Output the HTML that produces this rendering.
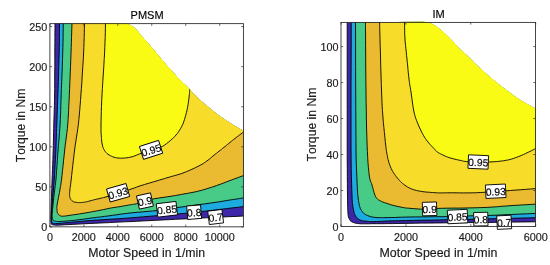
<!DOCTYPE html>
<html><head><meta charset="utf-8"><title>PMSM / IM efficiency maps</title>
<style>html,body{margin:0;padding:0;background:#fff}svg{display:block}text{font-family:"Liberation Sans",Arial,Helvetica,sans-serif;stroke:currentColor;stroke-width:0.15px;font-kerning:none}</style>
</head><body>
<svg width="550" height="265" viewBox="0 0 550 265">
<rect width="550" height="265" fill="#fff"/>
<clipPath id="clip1"><polygon points="49.9,226.8 49.9,23.6 122.0,23.0 122.8,23.2 123.6,23.3 124.4,23.5 125.2,23.6 125.9,23.8 126.5,23.9 127.0,24.0 127.4,24.1 127.7,24.2 128.0,24.3 128.3,24.4 128.6,24.5 129.0,24.6 129.4,24.8 129.8,24.9 130.2,25.1 130.6,25.3 131.0,25.5 131.4,25.7 131.9,25.9 132.3,26.2 132.7,26.4 133.2,26.7 133.6,27.0 134.0,27.3 134.4,27.7 134.8,28.1 135.2,28.5 135.6,28.9 136.0,29.3 136.4,29.7 136.7,30.0 137.0,30.4 137.3,30.7 137.7,31.2 138.2,31.8 138.8,32.5 139.5,33.4 140.3,34.4 141.1,35.4 141.9,36.4 142.7,37.3 143.5,38.1 144.2,39.0 145.0,39.8 145.7,40.6 146.5,41.4 147.3,42.3 148.1,43.3 149.0,44.3 149.8,45.3 150.7,46.4 151.6,47.4 152.5,48.5 153.4,49.5 154.2,50.6 155.1,51.6 156.0,52.7 157.0,53.8 158.0,55.0 159.1,56.3 160.3,57.8 161.6,59.3 162.9,60.8 164.2,62.3 165.4,63.8 166.6,65.2 167.8,66.6 169.1,67.9 170.3,69.2 171.5,70.6 172.7,71.9 173.9,73.3 175.2,74.6 176.4,76.0 177.6,77.4 178.9,78.7 180.1,80.0 181.3,81.2 182.6,82.4 183.8,83.6 185.1,84.7 186.3,85.8 187.4,86.9 188.4,88.0 189.4,89.0 190.3,90.0 191.2,91.1 192.2,92.1 193.2,93.2 194.3,94.3 195.4,95.4 196.5,96.6 197.7,97.8 199.0,99.0 200.3,100.2 201.8,101.5 203.4,102.8 205.0,104.2 206.7,105.5 208.4,106.9 210.0,108.2 211.5,109.5 213.0,110.7 214.4,111.9 215.9,113.0 217.4,114.3 219.1,115.5 220.9,116.8 222.8,118.1 224.8,119.4 226.9,120.8 229.0,122.1 231.0,123.4 233.0,124.7 235.1,125.9 237.2,127.1 239.2,128.4 241.3,129.6 243.4,130.8 243.4,226.8"/></clipPath>
<clipPath id="box1"><rect x="49.9" y="23.6" width="193.5" height="203.2"/></clipPath>
<g clip-path="url(#clip1)">
<polygon points="55.1,15.5 55.0,23.5 55.0,28.3 54.9,32.9 54.9,37.5 54.9,42.2 54.8,47.4 54.8,53.0 54.8,59.4 54.8,66.6 54.7,74.0 54.7,81.5 54.7,88.6 54.6,95.0 54.5,100.6 54.4,105.7 54.2,110.5 54.1,115.0 53.9,119.5 53.8,124.0 53.7,128.5 53.6,132.8 53.5,137.0 53.4,141.2 53.3,145.5 53.2,150.0 53.0,154.7 52.9,159.6 52.7,164.5 52.5,169.4 52.3,174.3 52.1,179.0 51.9,183.7 51.8,188.4 51.6,193.0 51.5,197.4 51.3,201.5 51.2,205.0 51.1,208.0 51.0,210.6 50.9,212.8 50.9,214.8 50.8,216.5 50.8,218.0 50.8,219.3 50.8,220.3 50.8,221.1 50.8,221.7 50.8,222.3 50.9,222.8 51.0,223.3 51.0,223.7 51.1,224.0 51.3,224.2 51.6,224.4 52.0,224.6 52.5,224.8 53.1,224.9 53.8,225.1 54.7,225.1 55.8,225.2 57.1,225.2 58.6,225.2 60.2,225.1 62.0,225.0 64.1,224.8 66.8,224.7 70.0,224.5 74.0,224.3 78.7,224.1 83.9,223.8 89.4,223.5 94.8,223.3 100.0,223.0 104.9,222.8 109.6,222.6 114.4,222.3 119.3,222.1 124.4,221.8 130.0,221.6 136.2,221.3 143.0,220.9 150.0,220.6 157.0,220.2 163.8,219.9 170.0,219.6 175.4,219.3 180.2,219.1 184.8,218.9 189.4,218.7 194.3,218.4 200.0,218.1 206.5,217.8 213.5,217.5 220.9,217.1 228.4,216.7 236.0,216.4 243.4,216.0 255.4,215.4 273.4,215.4 273.4,-6.4 55.1,-6.4" fill="#3E26A8"/>
<polygon points="59.6,15.5 59.5,23.5 59.5,28.3 59.4,32.9 59.4,37.5 59.4,42.2 59.3,47.4 59.2,53.0 59.0,59.4 58.8,66.6 58.6,74.0 58.4,81.5 58.1,88.6 57.9,95.0 57.7,100.6 57.5,105.7 57.3,110.5 57.1,115.0 57.0,119.5 56.8,124.0 56.6,128.5 56.5,132.8 56.4,137.0 56.2,141.2 56.1,145.5 55.9,150.0 55.7,154.8 55.4,159.7 55.1,164.8 54.9,169.8 54.6,174.6 54.3,179.0 54.0,183.0 53.7,186.9 53.4,190.4 53.1,193.8 52.8,197.0 52.6,200.0 52.4,202.8 52.1,205.4 51.9,207.8 51.7,210.1 51.6,212.1 51.5,214.0 51.4,215.7 51.4,217.2 51.4,218.6 51.5,219.7 51.6,220.7 51.7,221.6 51.9,222.3 52.1,222.7 52.3,223.0 52.6,223.1 53.0,223.3 53.5,223.4 54.1,223.5 54.7,223.6 55.4,223.6 56.1,223.5 57.0,223.5 58.0,223.4 59.0,223.3 60.1,223.3 61.2,223.2 62.6,223.0 64.2,222.9 66.2,222.7 68.7,222.5 71.6,222.2 74.8,221.9 78.2,221.6 81.4,221.3 84.4,221.0 87.0,220.8 89.3,220.6 91.5,220.5 93.8,220.3 96.6,220.1 100.0,219.9 104.1,219.6 108.6,219.3 113.5,219.0 118.7,218.7 124.3,218.3 130.0,217.9 136.4,217.4 143.5,216.8 150.8,216.2 158.0,215.6 164.6,215.1 170.0,214.6 174.1,214.3 177.3,214.0 179.8,213.8 182.0,213.6 184.1,213.4 186.5,213.2 189.1,212.9 191.6,212.7 194.1,212.4 196.5,212.1 198.9,211.9 201.3,211.6 203.6,211.3 205.9,211.1 208.2,210.8 210.5,210.5 212.7,210.3 215.0,210.0 217.3,209.7 219.6,209.4 221.8,209.2 224.1,208.9 226.5,208.6 228.8,208.3 231.2,208.0 233.6,207.7 236.1,207.5 238.5,207.2 241.0,206.9 243.4,206.6 255.3,205.2 273.4,205.2 273.4,-6.4 59.6,-6.4" fill="#1CAADF"/>
<polygon points="63.5,15.5 63.3,23.5 63.2,28.3 63.1,32.9 63.1,37.5 63.0,42.2 62.9,47.4 62.7,53.0 62.5,59.4 62.3,66.6 62.0,74.0 61.7,81.5 61.4,88.6 61.2,95.0 61.0,100.6 60.8,105.7 60.7,110.5 60.5,115.0 60.3,119.5 60.1,124.0 59.8,128.5 59.5,132.8 59.2,137.0 58.8,141.2 58.4,145.5 58.1,150.0 57.7,154.9 57.4,160.1 57.0,165.4 56.6,170.6 56.3,175.2 56.0,179.0 55.7,181.8 55.5,183.9 55.3,185.4 55.1,186.7 54.9,188.1 54.7,190.0 54.4,192.3 54.1,194.9 53.8,197.6 53.5,200.3 53.2,202.8 53.0,205.0 52.8,207.0 52.6,208.8 52.5,210.4 52.3,212.0 52.2,213.3 52.2,214.6 52.2,215.7 52.2,216.6 52.3,217.4 52.4,218.1 52.5,218.7 52.7,219.3 52.9,219.8 53.1,220.2 53.4,220.5 53.7,220.8 54.2,221.0 54.8,221.2 55.6,221.3 56.5,221.4 57.5,221.5 58.6,221.5 60.0,221.5 61.6,221.4 63.5,221.3 65.7,221.1 68.0,220.9 70.5,220.7 72.9,220.5 75.3,220.2 77.6,219.9 79.9,219.6 82.3,219.3 84.6,219.0 86.8,218.7 88.9,218.4 90.9,218.1 92.8,217.9 94.7,217.7 96.5,217.4 98.2,217.2 100.0,217.0 101.6,216.8 103.0,216.6 104.4,216.4 106.0,216.2 107.8,216.0 110.0,215.7 112.7,215.3 115.7,214.9 119.0,214.4 122.5,213.9 126.2,213.5 130.0,213.0 134.1,212.6 138.6,212.2 143.2,211.8 147.9,211.4 152.5,211.0 156.8,210.5 160.7,210.0 164.4,209.5 167.9,209.0 171.5,208.4 175.5,207.8 180.0,207.2 185.4,206.5 191.6,205.6 198.1,204.7 204.5,203.9 210.3,203.1 215.0,202.4 218.5,201.9 221.1,201.5 223.2,201.1 224.9,200.8 226.7,200.5 228.8,200.2 231.2,199.8 233.6,199.4 236.1,199.1 238.5,198.7 241.0,198.3 243.4,197.9 255.3,196.0 273.4,196.0 273.4,-6.4 63.5,-6.4" fill="#47CB86"/>
<polygon points="72.3,15.5 72.0,23.5 71.8,28.3 71.7,32.9 71.5,37.5 71.4,42.2 71.2,47.4 71.0,53.0 70.8,59.4 70.5,66.6 70.2,74.0 69.9,81.5 69.6,88.6 69.3,95.0 69.1,100.6 68.8,105.7 68.6,110.5 68.4,115.0 68.1,119.5 67.8,124.0 67.4,128.5 66.9,132.8 66.3,137.0 65.8,141.2 65.2,145.5 64.7,150.0 64.2,154.9 63.6,160.1 63.1,165.4 62.5,170.6 62.0,175.2 61.6,179.0 61.2,181.8 61.0,183.9 60.7,185.4 60.5,186.7 60.2,188.1 59.9,190.0 59.5,192.4 58.9,195.1 58.4,197.9 57.9,200.6 57.4,203.1 57.1,205.0 56.9,206.4 56.8,207.3 56.8,208.0 56.9,208.5 57.0,208.9 57.0,209.5 57.0,210.1 57.1,210.8 57.1,211.3 57.2,211.9 57.3,212.4 57.5,212.9 57.7,213.4 58.0,213.8 58.3,214.2 58.6,214.6 59.0,214.9 59.4,215.2 59.8,215.5 60.2,215.7 60.6,215.9 61.0,216.1 61.7,216.2 62.5,216.2 63.5,216.2 64.7,216.1 65.9,215.9 67.4,215.7 69.0,215.5 70.7,215.2 72.6,214.9 74.8,214.6 77.1,214.3 79.5,213.9 81.9,213.5 84.4,213.1 87.0,212.7 89.7,212.2 92.4,211.7 95.1,211.2 97.7,210.7 100.0,210.3 102.0,209.9 103.7,209.5 105.3,209.2 106.9,208.8 108.4,208.5 110.0,208.2 111.7,207.9 113.3,207.6 115.0,207.4 116.7,207.1 118.3,206.9 120.0,206.6 121.7,206.3 123.4,206.0 125.1,205.7 126.8,205.4 128.4,205.1 130.0,204.8 131.4,204.6 132.6,204.4 133.7,204.3 134.9,204.1 136.3,203.8 138.0,203.4 140.0,202.8 142.1,202.2 144.5,201.4 147.0,200.6 149.6,199.9 152.2,199.2 155.0,198.6 158.0,198.2 161.0,197.7 164.1,197.3 167.2,196.8 170.0,196.4 172.7,196.0 175.3,195.5 177.7,195.1 180.2,194.7 182.6,194.2 185.0,193.8 187.4,193.4 189.6,192.9 191.9,192.5 194.1,192.1 196.4,191.6 198.8,191.0 201.3,190.4 203.8,189.7 206.3,188.9 208.9,188.1 211.5,187.3 214.0,186.5 216.5,185.6 219.0,184.7 221.4,183.8 223.9,182.9 226.3,181.9 228.8,181.0 231.2,180.1 233.7,179.2 236.1,178.3 238.5,177.4 241.0,176.5 243.4,175.6 254.7,171.4 273.4,171.4 273.4,-6.4 72.3,-6.4" fill="#EABA30"/>
<polygon points="84.7,15.5 84.5,23.5 84.4,28.3 84.3,32.9 84.2,37.5 84.0,42.2 83.9,47.4 83.6,53.0 83.3,59.4 82.8,66.6 82.3,74.0 81.9,81.5 81.4,88.6 80.9,95.0 80.5,100.6 80.1,105.7 79.7,110.5 79.3,115.0 78.9,119.5 78.4,124.0 77.8,128.5 77.2,132.8 76.5,137.0 75.9,141.2 75.2,145.5 74.6,150.0 74.0,154.9 73.4,160.1 72.8,165.4 72.2,170.6 71.7,175.2 71.3,179.0 70.9,181.9 70.7,184.2 70.4,186.0 70.2,187.4 70.0,188.7 69.9,190.0 69.8,191.2 69.7,192.2 69.6,193.0 69.6,193.7 69.6,194.4 69.6,195.0 69.6,195.6 69.7,196.2 69.8,196.7 69.9,197.1 70.0,197.6 70.1,198.0 70.2,198.4 70.4,198.7 70.6,199.1 70.8,199.4 71.0,199.7 71.3,200.0 71.6,200.3 71.9,200.7 72.3,201.0 72.7,201.3 73.1,201.6 73.7,201.8 74.4,202.0 75.1,202.2 75.9,202.3 76.8,202.5 77.6,202.5 78.5,202.6 79.4,202.6 80.4,202.6 81.4,202.5 82.4,202.4 83.3,202.3 84.0,202.2 84.5,202.2 84.8,202.1 85.1,202.1 85.3,202.0 85.7,202.0 86.4,201.8 87.4,201.6 88.5,201.3 89.9,200.9 91.2,200.6 92.6,200.2 93.8,199.9 94.9,199.6 95.9,199.4 96.9,199.1 97.9,198.9 98.9,198.7 100.0,198.4 101.0,198.2 101.7,198.0 102.5,197.8 103.5,197.6 105.0,197.2 107.0,196.6 109.9,195.7 113.5,194.6 117.6,193.4 121.7,192.1 125.5,190.9 128.7,189.9 131.1,189.1 133.1,188.4 134.8,187.8 136.4,187.2 138.0,186.6 140.0,185.9 142.3,185.2 144.6,184.5 147.1,183.7 149.7,183.0 152.2,182.2 154.7,181.5 157.1,180.8 159.6,180.0 162.0,179.3 164.5,178.6 166.9,177.8 169.4,177.1 171.8,176.4 174.3,175.7 176.8,175.0 179.2,174.3 181.7,173.5 184.1,172.6 186.6,171.6 189.2,170.5 191.9,169.3 194.4,168.2 196.7,167.0 198.8,166.0 200.5,165.1 202.0,164.2 203.3,163.5 204.4,162.7 205.6,161.9 206.8,161.0 208.1,160.1 209.3,159.1 210.5,158.1 211.7,157.1 212.9,156.1 214.1,155.1 215.3,154.1 216.6,153.2 217.8,152.2 219.0,151.2 220.3,150.3 221.5,149.3 222.7,148.3 223.9,147.3 225.2,146.4 226.4,145.4 227.6,144.4 228.8,143.4 230.0,142.4 231.3,141.4 232.5,140.4 233.7,139.4 235.0,138.5 236.2,137.5 237.4,136.6 238.6,135.7 239.8,134.8 241.0,133.9 242.2,133.0 243.4,132.1 253.0,124.9 273.4,124.9 273.4,-6.4 84.7,-6.4" fill="#F7DC2A"/>
<polygon points="105.7,15.5 105.5,23.5 105.4,28.3 105.3,32.9 105.2,37.5 105.0,42.2 104.8,47.4 104.6,53.0 104.2,59.4 103.8,66.6 103.3,74.0 102.8,81.5 102.4,88.6 102.0,95.0 101.7,100.8 101.5,106.3 101.3,111.4 101.2,116.1 101.1,120.3 101.0,124.0 101.0,127.0 101.0,129.4 101.0,131.4 101.1,133.0 101.2,134.5 101.3,136.0 101.4,137.5 101.5,138.8 101.6,139.9 101.7,141.0 101.8,142.0 102.0,143.0 102.2,144.0 102.4,145.0 102.6,145.9 102.8,146.8 103.1,147.6 103.5,148.5 103.9,149.4 104.4,150.3 104.9,151.1 105.5,151.9 106.2,152.7 107.0,153.5 108.0,154.2 109.0,154.9 110.2,155.6 111.5,156.2 112.7,156.8 114.0,157.2 115.3,157.6 116.5,157.8 117.8,158.0 119.1,158.1 120.5,158.2 122.0,158.2 123.6,158.1 125.2,158.0 126.9,157.8 128.7,157.5 130.4,157.2 132.0,156.8 133.5,156.4 135.0,155.8 136.4,155.2 137.9,154.6 139.4,154.0 141.0,153.4 142.7,152.8 144.5,152.2 146.4,151.5 148.3,150.9 150.2,150.3 152.0,149.7 153.8,149.2 155.5,148.8 157.2,148.4 159.0,147.9 160.8,147.2 162.6,146.3 164.6,145.1 166.6,143.6 168.8,141.9 170.8,140.2 172.8,138.4 174.5,136.7 176.0,135.0 177.4,133.4 178.6,131.7 179.7,129.9 180.8,128.2 181.7,126.5 182.5,124.8 183.3,123.0 183.9,121.2 184.5,119.5 185.0,117.7 185.5,116.0 186.0,114.3 186.4,112.6 186.8,111.0 187.2,109.3 187.5,107.7 187.8,106.0 188.1,104.3 188.4,102.5 188.6,100.8 188.8,99.1 189.0,97.5 189.2,96.0 189.3,94.7 189.5,93.5 189.5,92.4 189.6,91.3 189.7,90.3 189.8,89.2 190.8,77.2 273.4,77.2 273.4,-6.4 105.7,-6.4" fill="#F9FB15"/>
<g fill="none" stroke="#000" stroke-width="0.9" stroke-linejoin="round">
<polyline points="55.1,15.5 55.0,23.5 55.0,28.3 54.9,32.9 54.9,37.5 54.9,42.2 54.8,47.4 54.8,53.0 54.8,59.4 54.8,66.6 54.7,74.0 54.7,81.5 54.7,88.6 54.6,95.0 54.5,100.6 54.4,105.7 54.2,110.5 54.1,115.0 53.9,119.5 53.8,124.0 53.7,128.5 53.6,132.8 53.5,137.0 53.4,141.2 53.3,145.5 53.2,150.0 53.0,154.7 52.9,159.6 52.7,164.5 52.5,169.4 52.3,174.3 52.1,179.0 51.9,183.7 51.8,188.4 51.6,193.0 51.5,197.4 51.3,201.5 51.2,205.0 51.1,208.0 51.0,210.6 50.9,212.8 50.9,214.8 50.8,216.5 50.8,218.0 50.8,219.3 50.8,220.3 50.8,221.1 50.8,221.7 50.8,222.3 50.9,222.8 51.0,223.3 51.0,223.7 51.1,224.0 51.3,224.2 51.6,224.4 52.0,224.6 52.5,224.8 53.1,224.9 53.8,225.1 54.7,225.1 55.8,225.2 57.1,225.2 58.6,225.2 60.2,225.1 62.0,225.0 64.1,224.8 66.8,224.7 70.0,224.5 74.0,224.3 78.7,224.1 83.9,223.8 89.4,223.5 94.8,223.3 100.0,223.0 104.9,222.8 109.6,222.6 114.4,222.3 119.3,222.1 124.4,221.8 130.0,221.6 136.2,221.3 143.0,220.9 150.0,220.6 157.0,220.2 163.8,219.9 170.0,219.6 175.4,219.3 180.2,219.1 184.8,218.9 189.4,218.7 194.3,218.4 200.0,218.1 206.5,217.8 213.5,217.5 220.9,217.1 228.4,216.7 236.0,216.4 243.4,216.0 255.4,215.4"/>
<polyline points="59.6,15.5 59.5,23.5 59.5,28.3 59.4,32.9 59.4,37.5 59.4,42.2 59.3,47.4 59.2,53.0 59.0,59.4 58.8,66.6 58.6,74.0 58.4,81.5 58.1,88.6 57.9,95.0 57.7,100.6 57.5,105.7 57.3,110.5 57.1,115.0 57.0,119.5 56.8,124.0 56.6,128.5 56.5,132.8 56.4,137.0 56.2,141.2 56.1,145.5 55.9,150.0 55.7,154.8 55.4,159.7 55.1,164.8 54.9,169.8 54.6,174.6 54.3,179.0 54.0,183.0 53.7,186.9 53.4,190.4 53.1,193.8 52.8,197.0 52.6,200.0 52.4,202.8 52.1,205.4 51.9,207.8 51.7,210.1 51.6,212.1 51.5,214.0 51.4,215.7 51.4,217.2 51.4,218.6 51.5,219.7 51.6,220.7 51.7,221.6 51.9,222.3 52.1,222.7 52.3,223.0 52.6,223.1 53.0,223.3 53.5,223.4 54.1,223.5 54.7,223.6 55.4,223.6 56.1,223.5 57.0,223.5 58.0,223.4 59.0,223.3 60.1,223.3 61.2,223.2 62.6,223.0 64.2,222.9 66.2,222.7 68.7,222.5 71.6,222.2 74.8,221.9 78.2,221.6 81.4,221.3 84.4,221.0 87.0,220.8 89.3,220.6 91.5,220.5 93.8,220.3 96.6,220.1 100.0,219.9 104.1,219.6 108.6,219.3 113.5,219.0 118.7,218.7 124.3,218.3 130.0,217.9 136.4,217.4 143.5,216.8 150.8,216.2 158.0,215.6 164.6,215.1 170.0,214.6 174.1,214.3 177.3,214.0 179.8,213.8 182.0,213.6 184.1,213.4 186.5,213.2 189.1,212.9 191.6,212.7 194.1,212.4 196.5,212.1 198.9,211.9 201.3,211.6 203.6,211.3 205.9,211.1 208.2,210.8 210.5,210.5 212.7,210.3 215.0,210.0 217.3,209.7 219.6,209.4 221.8,209.2 224.1,208.9 226.5,208.6 228.8,208.3 231.2,208.0 233.6,207.7 236.1,207.5 238.5,207.2 241.0,206.9 243.4,206.6 255.3,205.2"/>
<polyline points="63.5,15.5 63.3,23.5 63.2,28.3 63.1,32.9 63.1,37.5 63.0,42.2 62.9,47.4 62.7,53.0 62.5,59.4 62.3,66.6 62.0,74.0 61.7,81.5 61.4,88.6 61.2,95.0 61.0,100.6 60.8,105.7 60.7,110.5 60.5,115.0 60.3,119.5 60.1,124.0 59.8,128.5 59.5,132.8 59.2,137.0 58.8,141.2 58.4,145.5 58.1,150.0 57.7,154.9 57.4,160.1 57.0,165.4 56.6,170.6 56.3,175.2 56.0,179.0 55.7,181.8 55.5,183.9 55.3,185.4 55.1,186.7 54.9,188.1 54.7,190.0 54.4,192.3 54.1,194.9 53.8,197.6 53.5,200.3 53.2,202.8 53.0,205.0 52.8,207.0 52.6,208.8 52.5,210.4 52.3,212.0 52.2,213.3 52.2,214.6 52.2,215.7 52.2,216.6 52.3,217.4 52.4,218.1 52.5,218.7 52.7,219.3 52.9,219.8 53.1,220.2 53.4,220.5 53.7,220.8 54.2,221.0 54.8,221.2 55.6,221.3 56.5,221.4 57.5,221.5 58.6,221.5 60.0,221.5 61.6,221.4 63.5,221.3 65.7,221.1 68.0,220.9 70.5,220.7 72.9,220.5 75.3,220.2 77.6,219.9 79.9,219.6 82.3,219.3 84.6,219.0 86.8,218.7 88.9,218.4 90.9,218.1 92.8,217.9 94.7,217.7 96.5,217.4 98.2,217.2 100.0,217.0 101.6,216.8 103.0,216.6 104.4,216.4 106.0,216.2 107.8,216.0 110.0,215.7 112.7,215.3 115.7,214.9 119.0,214.4 122.5,213.9 126.2,213.5 130.0,213.0 134.1,212.6 138.6,212.2 143.2,211.8 147.9,211.4 152.5,211.0 156.8,210.5 160.7,210.0 164.4,209.5 167.9,209.0 171.5,208.4 175.5,207.8 180.0,207.2 185.4,206.5 191.6,205.6 198.1,204.7 204.5,203.9 210.3,203.1 215.0,202.4 218.5,201.9 221.1,201.5 223.2,201.1 224.9,200.8 226.7,200.5 228.8,200.2 231.2,199.8 233.6,199.4 236.1,199.1 238.5,198.7 241.0,198.3 243.4,197.9 255.3,196.0"/>
<polyline points="72.3,15.5 72.0,23.5 71.8,28.3 71.7,32.9 71.5,37.5 71.4,42.2 71.2,47.4 71.0,53.0 70.8,59.4 70.5,66.6 70.2,74.0 69.9,81.5 69.6,88.6 69.3,95.0 69.1,100.6 68.8,105.7 68.6,110.5 68.4,115.0 68.1,119.5 67.8,124.0 67.4,128.5 66.9,132.8 66.3,137.0 65.8,141.2 65.2,145.5 64.7,150.0 64.2,154.9 63.6,160.1 63.1,165.4 62.5,170.6 62.0,175.2 61.6,179.0 61.2,181.8 61.0,183.9 60.7,185.4 60.5,186.7 60.2,188.1 59.9,190.0 59.5,192.4 58.9,195.1 58.4,197.9 57.9,200.6 57.4,203.1 57.1,205.0 56.9,206.4 56.8,207.3 56.8,208.0 56.9,208.5 57.0,208.9 57.0,209.5 57.0,210.1 57.1,210.8 57.1,211.3 57.2,211.9 57.3,212.4 57.5,212.9 57.7,213.4 58.0,213.8 58.3,214.2 58.6,214.6 59.0,214.9 59.4,215.2 59.8,215.5 60.2,215.7 60.6,215.9 61.0,216.1 61.7,216.2 62.5,216.2 63.5,216.2 64.7,216.1 65.9,215.9 67.4,215.7 69.0,215.5 70.7,215.2 72.6,214.9 74.8,214.6 77.1,214.3 79.5,213.9 81.9,213.5 84.4,213.1 87.0,212.7 89.7,212.2 92.4,211.7 95.1,211.2 97.7,210.7 100.0,210.3 102.0,209.9 103.7,209.5 105.3,209.2 106.9,208.8 108.4,208.5 110.0,208.2 111.7,207.9 113.3,207.6 115.0,207.4 116.7,207.1 118.3,206.9 120.0,206.6 121.7,206.3 123.4,206.0 125.1,205.7 126.8,205.4 128.4,205.1 130.0,204.8 131.4,204.6 132.6,204.4 133.7,204.3 134.9,204.1 136.3,203.8 138.0,203.4 140.0,202.8 142.1,202.2 144.5,201.4 147.0,200.6 149.6,199.9 152.2,199.2 155.0,198.6 158.0,198.2 161.0,197.7 164.1,197.3 167.2,196.8 170.0,196.4 172.7,196.0 175.3,195.5 177.7,195.1 180.2,194.7 182.6,194.2 185.0,193.8 187.4,193.4 189.6,192.9 191.9,192.5 194.1,192.1 196.4,191.6 198.8,191.0 201.3,190.4 203.8,189.7 206.3,188.9 208.9,188.1 211.5,187.3 214.0,186.5 216.5,185.6 219.0,184.7 221.4,183.8 223.9,182.9 226.3,181.9 228.8,181.0 231.2,180.1 233.7,179.2 236.1,178.3 238.5,177.4 241.0,176.5 243.4,175.6 254.7,171.4"/>
<polyline points="84.7,15.5 84.5,23.5 84.4,28.3 84.3,32.9 84.2,37.5 84.0,42.2 83.9,47.4 83.6,53.0 83.3,59.4 82.8,66.6 82.3,74.0 81.9,81.5 81.4,88.6 80.9,95.0 80.5,100.6 80.1,105.7 79.7,110.5 79.3,115.0 78.9,119.5 78.4,124.0 77.8,128.5 77.2,132.8 76.5,137.0 75.9,141.2 75.2,145.5 74.6,150.0 74.0,154.9 73.4,160.1 72.8,165.4 72.2,170.6 71.7,175.2 71.3,179.0 70.9,181.9 70.7,184.2 70.4,186.0 70.2,187.4 70.0,188.7 69.9,190.0 69.8,191.2 69.7,192.2 69.6,193.0 69.6,193.7 69.6,194.4 69.6,195.0 69.6,195.6 69.7,196.2 69.8,196.7 69.9,197.1 70.0,197.6 70.1,198.0 70.2,198.4 70.4,198.7 70.6,199.1 70.8,199.4 71.0,199.7 71.3,200.0 71.6,200.3 71.9,200.7 72.3,201.0 72.7,201.3 73.1,201.6 73.7,201.8 74.4,202.0 75.1,202.2 75.9,202.3 76.8,202.5 77.6,202.5 78.5,202.6 79.4,202.6 80.4,202.6 81.4,202.5 82.4,202.4 83.3,202.3 84.0,202.2 84.5,202.2 84.8,202.1 85.1,202.1 85.3,202.0 85.7,202.0 86.4,201.8 87.4,201.6 88.5,201.3 89.9,200.9 91.2,200.6 92.6,200.2 93.8,199.9 94.9,199.6 95.9,199.4 96.9,199.1 97.9,198.9 98.9,198.7 100.0,198.4 101.0,198.2 101.7,198.0 102.5,197.8 103.5,197.6 105.0,197.2 107.0,196.6 109.9,195.7 113.5,194.6 117.6,193.4 121.7,192.1 125.5,190.9 128.7,189.9 131.1,189.1 133.1,188.4 134.8,187.8 136.4,187.2 138.0,186.6 140.0,185.9 142.3,185.2 144.6,184.5 147.1,183.7 149.7,183.0 152.2,182.2 154.7,181.5 157.1,180.8 159.6,180.0 162.0,179.3 164.5,178.6 166.9,177.8 169.4,177.1 171.8,176.4 174.3,175.7 176.8,175.0 179.2,174.3 181.7,173.5 184.1,172.6 186.6,171.6 189.2,170.5 191.9,169.3 194.4,168.2 196.7,167.0 198.8,166.0 200.5,165.1 202.0,164.2 203.3,163.5 204.4,162.7 205.6,161.9 206.8,161.0 208.1,160.1 209.3,159.1 210.5,158.1 211.7,157.1 212.9,156.1 214.1,155.1 215.3,154.1 216.6,153.2 217.8,152.2 219.0,151.2 220.3,150.3 221.5,149.3 222.7,148.3 223.9,147.3 225.2,146.4 226.4,145.4 227.6,144.4 228.8,143.4 230.0,142.4 231.3,141.4 232.5,140.4 233.7,139.4 235.0,138.5 236.2,137.5 237.4,136.6 238.6,135.7 239.8,134.8 241.0,133.9 242.2,133.0 243.4,132.1 253.0,124.9"/>
<polyline points="105.7,15.5 105.5,23.5 105.4,28.3 105.3,32.9 105.2,37.5 105.0,42.2 104.8,47.4 104.6,53.0 104.2,59.4 103.8,66.6 103.3,74.0 102.8,81.5 102.4,88.6 102.0,95.0 101.7,100.8 101.5,106.3 101.3,111.4 101.2,116.1 101.1,120.3 101.0,124.0 101.0,127.0 101.0,129.4 101.0,131.4 101.1,133.0 101.2,134.5 101.3,136.0 101.4,137.5 101.5,138.8 101.6,139.9 101.7,141.0 101.8,142.0 102.0,143.0 102.2,144.0 102.4,145.0 102.6,145.9 102.8,146.8 103.1,147.6 103.5,148.5 103.9,149.4 104.4,150.3 104.9,151.1 105.5,151.9 106.2,152.7 107.0,153.5 108.0,154.2 109.0,154.9 110.2,155.6 111.5,156.2 112.7,156.8 114.0,157.2 115.3,157.6 116.5,157.8 117.8,158.0 119.1,158.1 120.5,158.2 122.0,158.2 123.6,158.1 125.2,158.0 126.9,157.8 128.7,157.5 130.4,157.2 132.0,156.8 133.5,156.4 135.0,155.8 136.4,155.2 137.9,154.6 139.4,154.0 141.0,153.4 142.7,152.8 144.5,152.2 146.4,151.5 148.3,150.9 150.2,150.3 152.0,149.7 153.8,149.2 155.5,148.8 157.2,148.4 159.0,147.9 160.8,147.2 162.6,146.3 164.6,145.1 166.6,143.6 168.8,141.9 170.8,140.2 172.8,138.4 174.5,136.7 176.0,135.0 177.4,133.4 178.6,131.7 179.7,129.9 180.8,128.2 181.7,126.5 182.5,124.8 183.3,123.0 183.9,121.2 184.5,119.5 185.0,117.7 185.5,116.0 186.0,114.3 186.4,112.6 186.8,111.0 187.2,109.3 187.5,107.7 187.8,106.0 188.1,104.3 188.4,102.5 188.6,100.8 188.8,99.1 189.0,97.5 189.2,96.0 189.3,94.7 189.5,93.5 189.5,92.4 189.6,91.3 189.7,90.3 189.8,89.2 190.8,77.2"/>
</g></g>
<g transform="translate(151.05 149.85) rotate(-17.8)"><rect x="-10.05" y="-6.75" width="20.10" height="13.50" fill="#fff" stroke="#000" stroke-width="0.9"/><text x="0" y="4.10" font-size="10.3" text-anchor="middle" fill="#000">0.95</text></g>
<g transform="translate(118.10 192.75) rotate(-15.8)"><rect x="-10.10" y="-6.75" width="20.20" height="13.50" fill="#fff" stroke="#000" stroke-width="0.9"/><text x="0" y="4.10" font-size="10.3" text-anchor="middle" fill="#000">0.93</text></g>
<g transform="translate(144.95 201.00) rotate(-12.5)"><rect x="-7.15" y="-6.75" width="14.30" height="13.50" fill="#fff" stroke="#000" stroke-width="0.9"/><text x="0" y="4.10" font-size="10.3" text-anchor="middle" fill="#000">0.9</text></g>
<g transform="translate(166.90 209.30) rotate(-6.7)"><rect x="-9.90" y="-6.75" width="19.80" height="13.50" fill="#fff" stroke="#000" stroke-width="0.9"/><text x="0" y="4.10" font-size="10.3" text-anchor="middle" fill="#000">0.85</text></g>
<g transform="translate(194.15 212.20) rotate(-4.6)"><rect x="-6.95" y="-6.75" width="13.90" height="13.50" fill="#fff" stroke="#000" stroke-width="0.9"/><text x="0" y="4.10" font-size="10.3" text-anchor="middle" fill="#000">0.8</text></g>
<g transform="translate(215.65 217.00) rotate(-6.8)"><rect x="-7.15" y="-6.75" width="14.30" height="13.50" fill="#fff" stroke="#000" stroke-width="0.9"/><text x="0" y="4.10" font-size="10.3" text-anchor="middle" fill="#000">0.7</text></g>
<rect x="49.90" y="23.65" width="193.50" height="203.20" fill="none" stroke="#262626" stroke-width="0.85"/>
<path d="M49.90 226.85v-2.20 M49.90 23.65v2.20 M83.86 226.85v-2.20 M83.86 23.65v2.20 M117.82 226.85v-2.20 M117.82 23.65v2.20 M151.78 226.85v-2.20 M151.78 23.65v2.20 M185.74 226.85v-2.20 M185.74 23.65v2.20 M219.70 226.85v-2.20 M219.70 23.65v2.20 M49.90 226.95h2.20 M243.40 226.95h-2.20 M49.90 186.88h2.20 M243.40 186.88h-2.20 M49.90 146.82h2.20 M243.40 146.82h-2.20 M49.90 106.75h2.20 M243.40 106.75h-2.20 M49.90 66.69h2.20 M243.40 66.69h-2.20 M49.90 26.62h2.20 M243.40 26.62h-2.20" stroke="#262626" stroke-width="0.7" fill="none"/>
<g font-size="10.8" fill="#262626">
<text x="49.90" y="240.90" text-anchor="middle">0</text>
<text x="83.86" y="240.90" text-anchor="middle">2000</text>
<text x="117.82" y="240.90" text-anchor="middle">4000</text>
<text x="151.78" y="240.90" text-anchor="middle">6000</text>
<text x="185.74" y="240.90" text-anchor="middle">8000</text>
<text x="219.70" y="240.90" text-anchor="middle">10000</text>
<text x="47.20" y="231.40" text-anchor="end">0</text>
<text x="47.20" y="191.33" text-anchor="end">50</text>
<text x="47.20" y="151.27" text-anchor="end">100</text>
<text x="47.20" y="111.20" text-anchor="end">150</text>
<text x="47.20" y="71.14" text-anchor="end">200</text>
<text x="47.20" y="31.07" text-anchor="end">250</text>
</g>
<text x="146.70" y="257.20" font-size="12.3" text-anchor="middle" fill="#262626">Motor Speed in 1/min</text>
<text transform="translate(24.70 125.50) rotate(-90)" font-size="12.15" text-anchor="middle" fill="#262626">Torque in Nm</text>
<text x="147.10" y="19.40" font-size="11" text-anchor="middle" fill="#000">PMSM</text>
<clipPath id="clip2"><polygon points="341.0,226.5 341.0,22.4 424.0,21.8 424.5,21.9 425.0,21.9 425.5,22.0 426.0,22.0 426.5,22.1 427.0,22.2 427.5,22.3 428.1,22.5 428.6,22.7 429.2,22.9 429.8,23.1 430.5,23.4 431.3,23.8 432.2,24.2 433.1,24.6 434.0,25.1 435.0,25.6 435.8,26.1 436.6,26.6 437.3,27.1 438.0,27.7 438.7,28.2 439.3,28.8 440.0,29.3 440.6,29.8 441.1,30.2 441.6,30.6 442.2,31.0 442.8,31.6 443.7,32.4 444.8,33.4 446.1,34.7 447.4,36.0 448.9,37.4 450.3,38.9 451.7,40.3 453.0,41.7 454.3,43.1 455.7,44.6 457.0,46.0 458.3,47.5 459.6,48.8 460.9,50.1 462.2,51.3 463.5,52.4 464.8,53.6 466.2,54.8 467.5,56.0 468.9,57.3 470.3,58.7 471.7,60.1 473.0,61.5 474.4,62.9 475.8,64.2 477.1,65.5 478.5,66.7 479.8,67.9 481.1,69.1 482.4,70.3 483.7,71.5 485.0,72.7 486.4,73.9 487.7,75.1 489.0,76.3 490.4,77.5 491.7,78.6 493.0,79.7 494.3,80.8 495.7,81.8 497.0,82.8 498.3,83.9 499.6,84.9 500.9,85.9 502.1,86.9 503.3,87.8 504.5,88.8 505.9,89.8 507.5,91.0 509.3,92.3 511.4,93.8 513.6,95.4 515.8,96.9 518.0,98.4 520.0,99.7 521.9,100.9 523.7,101.9 525.4,103.0 527.1,103.9 528.6,104.7 530.0,105.5 531.2,106.2 532.2,106.7 533.0,107.2 533.8,107.7 534.6,108.1 535.5,108.6 535.5,226.5"/></clipPath>
<clipPath id="box2"><rect x="341.0" y="22.4" width="194.5" height="204.1"/></clipPath>
<g clip-path="url(#clip2)">
<polygon points="347.2,14.4 347.2,22.4 347.2,43.7 347.2,66.0 347.2,88.2 347.2,109.5 347.2,128.8 347.2,145.0 347.2,157.9 347.3,168.2 347.3,176.5 347.4,183.3 347.4,189.3 347.5,195.0 347.6,200.1 347.6,204.1 347.7,207.3 347.8,209.8 347.9,212.0 348.0,214.0 348.2,215.7 348.4,216.9 348.6,217.7 348.9,218.2 349.2,218.7 349.5,219.3 349.8,219.9 350.1,220.4 350.4,220.8 350.8,221.2 351.3,221.5 352.0,221.9 352.9,222.3 353.8,222.6 354.9,223.0 356.2,223.3 357.7,223.5 359.4,223.7 361.4,223.8 363.7,223.8 366.2,223.8 368.8,223.8 371.4,223.7 374.0,223.7 376.5,223.7 379.1,223.7 381.7,223.7 384.3,223.7 387.1,223.6 390.0,223.6 392.9,223.6 395.7,223.5 398.6,223.5 401.9,223.4 405.6,223.4 410.0,223.3 415.2,223.2 421.1,223.1 427.5,223.1 434.2,223.0 441.0,222.9 447.8,222.8 454.5,222.7 461.4,222.7 468.4,222.6 475.5,222.5 482.7,222.5 490.0,222.4 497.4,222.3 504.9,222.2 512.5,222.1 520.2,222.0 527.9,221.9 535.5,221.8 547.5,221.6 565.5,221.6 565.5,-7.6 347.2,-7.6" fill="#3E26A8"/>
<polygon points="351.2,14.4 351.2,22.4 351.2,43.7 351.1,66.0 351.0,88.2 351.0,109.5 351.0,128.8 351.0,145.0 351.1,157.9 351.2,168.4 351.4,176.7 351.6,183.6 351.8,189.5 352.0,195.0 352.2,199.6 352.4,202.8 352.7,205.1 352.9,206.7 353.2,208.2 353.5,209.7 353.8,211.2 354.1,212.5 354.3,213.4 354.7,214.2 355.1,215.0 355.5,215.8 356.0,216.6 356.6,217.4 357.2,218.0 357.8,218.7 358.6,219.2 359.4,219.7 360.3,220.1 361.3,220.4 362.4,220.7 363.6,220.9 364.8,221.0 366.0,221.2 367.2,221.3 368.3,221.5 369.4,221.5 370.7,221.6 372.2,221.6 374.0,221.6 376.3,221.5 379.0,221.4 381.9,221.3 384.8,221.1 387.6,221.0 390.0,220.9 391.6,220.8 392.4,220.8 393.0,220.8 394.1,220.8 396.2,220.8 400.0,220.7 405.8,220.6 413.3,220.4 421.9,220.2 430.9,220.1 439.7,219.9 447.8,219.7 455.1,219.5 462.2,219.4 469.0,219.3 475.9,219.1 482.8,219.0 490.0,218.8 497.4,218.6 504.9,218.4 512.5,218.3 520.2,218.1 527.9,217.9 535.5,217.7 547.5,217.4 565.5,217.4 565.5,-7.6 351.2,-7.6" fill="#1CAADF"/>
<polygon points="355.5,14.4 355.5,22.4 355.6,43.8 355.6,66.5 355.7,89.2 355.8,110.6 355.9,129.6 356.0,145.0 356.1,156.1 356.3,163.9 356.5,169.2 356.7,173.1 356.8,176.3 357.0,180.0 357.1,183.7 357.3,186.7 357.4,189.0 357.5,191.1 357.6,193.0 357.8,195.0 358.0,197.0 358.3,199.0 358.5,200.8 358.8,202.4 359.1,203.9 359.4,205.3 359.7,206.5 360.0,207.5 360.3,208.3 360.7,209.1 361.0,209.8 361.5,210.5 362.0,211.2 362.5,211.9 363.0,212.6 363.6,213.2 364.4,213.8 365.3,214.4 366.4,215.0 367.6,215.5 369.0,216.1 370.5,216.6 372.1,217.0 374.0,217.3 376.0,217.5 378.2,217.6 380.6,217.7 383.2,217.7 385.9,217.6 388.8,217.6 391.8,217.5 394.8,217.5 398.0,217.3 401.5,217.2 405.4,217.1 410.0,217.0 415.5,216.9 421.9,216.9 428.8,216.8 435.7,216.7 442.2,216.7 447.8,216.6 452.4,216.5 456.4,216.4 460.0,216.3 463.3,216.1 466.6,216.0 470.0,215.9 473.2,215.8 475.9,215.8 478.5,215.7 481.5,215.7 485.2,215.6 490.0,215.4 496.1,215.2 503.3,214.8 511.2,214.5 519.4,214.1 527.6,213.8 535.5,213.4 547.5,212.9 565.5,212.9 565.5,-7.6 355.5,-7.6" fill="#47CB86"/>
<polygon points="365.5,14.4 365.5,22.4 365.5,24.7 365.5,26.6 365.5,28.4 365.5,30.8 365.6,34.1 365.6,39.0 365.6,45.7 365.7,54.0 365.7,63.2 365.8,73.0 365.9,82.7 366.0,92.0 366.1,101.1 366.3,110.5 366.4,119.9 366.6,129.0 366.9,137.5 367.1,145.0 367.4,151.6 367.7,157.4 368.0,162.7 368.4,167.3 368.8,171.4 369.2,175.0 369.6,177.8 370.1,179.8 370.5,181.2 371.0,182.4 371.5,183.5 372.0,185.0 372.5,186.8 373.0,188.7 373.5,190.6 374.0,192.4 374.5,194.0 375.0,195.3 375.4,196.3 375.7,197.0 376.1,197.5 376.4,198.0 376.8,198.3 377.3,198.8 377.8,199.3 378.3,199.7 378.9,200.1 379.6,200.5 380.4,200.9 381.5,201.4 382.8,202.0 384.4,202.6 386.2,203.2 388.0,203.8 389.9,204.4 391.8,205.0 393.7,205.5 395.8,206.0 397.9,206.5 399.9,206.9 401.8,207.3 403.5,207.6 404.8,207.8 405.8,208.0 406.7,208.1 407.6,208.1 408.6,208.2 410.0,208.3 411.8,208.5 413.7,208.6 415.9,208.8 418.2,209.0 420.5,209.1 422.8,209.2 424.9,209.2 426.7,209.0 428.6,208.9 430.8,208.7 433.5,208.5 437.0,208.4 441.6,208.3 447.1,208.2 453.1,208.1 459.3,208.1 465.0,208.0 470.0,207.9 474.1,207.8 477.6,207.7 480.8,207.6 483.8,207.5 486.8,207.4 490.0,207.2 493.3,207.0 496.5,206.8 499.7,206.5 502.9,206.2 506.3,206.0 510.0,205.7 513.9,205.4 518.1,205.2 522.4,204.9 526.8,204.7 531.2,204.4 535.5,204.2 547.5,203.5 565.5,203.5 565.5,-7.6 365.5,-7.6" fill="#EABA30"/>
<polygon points="379.4,14.4 379.6,22.4 379.7,24.7 379.7,26.6 379.7,28.4 379.8,30.8 379.9,34.1 380.0,39.0 380.2,46.0 380.5,55.0 380.7,64.9 381.0,75.0 381.3,84.3 381.6,92.0 381.8,97.9 382.0,102.6 382.2,106.6 382.4,110.3 382.7,113.9 383.0,118.0 383.4,122.7 383.9,127.6 384.4,132.6 384.9,137.4 385.3,141.6 385.7,145.0 386.0,147.4 386.2,149.1 386.3,150.2 386.4,151.0 386.6,151.9 386.8,153.0 387.0,154.3 387.3,155.6 387.5,156.9 387.8,158.3 388.1,159.6 388.5,161.0 388.9,162.5 389.4,164.0 390.0,165.5 390.5,167.0 391.2,168.5 391.9,170.0 392.7,171.4 393.5,172.8 394.5,174.2 395.4,175.5 396.4,176.8 397.4,178.0 398.4,179.2 399.4,180.3 400.4,181.4 401.4,182.4 402.5,183.4 403.7,184.3 404.9,185.2 406.2,186.1 407.5,186.9 408.9,187.7 410.3,188.4 411.7,189.0 413.2,189.5 414.7,190.0 416.3,190.4 417.9,190.8 419.5,191.1 421.2,191.4 423.0,191.7 424.9,191.9 426.8,192.1 428.7,192.2 430.5,192.4 432.2,192.5 433.7,192.6 435.0,192.7 436.2,192.8 437.4,192.8 438.6,192.9 440.0,192.9 441.4,192.9 442.8,192.9 444.2,192.9 445.8,192.8 447.7,192.8 450.0,192.8 452.8,192.8 456.1,192.8 459.7,192.9 463.3,192.9 466.8,192.9 470.0,192.9 472.8,192.8 475.3,192.8 477.8,192.6 480.2,192.5 482.8,192.4 485.6,192.2 488.6,192.0 491.7,191.8 494.9,191.6 498.3,191.4 502.0,191.1 506.0,190.8 510.4,190.5 515.2,190.1 520.2,189.8 525.3,189.4 530.5,189.0 535.5,188.6 547.5,187.7 565.5,187.7 565.5,-7.6 379.4,-7.6" fill="#F7DC2A"/>
<polygon points="404.3,14.4 404.5,22.4 404.6,25.1 404.6,27.8 404.7,30.5 404.7,33.2 404.8,36.0 405.0,39.0 405.2,42.1 405.6,45.4 405.9,48.8 406.3,52.2 406.6,55.6 407.0,59.0 407.3,62.4 407.7,65.9 408.0,69.4 408.3,72.9 408.7,76.1 409.0,79.0 409.3,81.5 409.6,83.6 409.9,85.5 410.3,87.4 410.6,89.5 411.0,92.0 411.4,95.0 411.9,98.4 412.4,102.1 412.9,105.7 413.4,109.0 414.0,112.0 414.6,114.5 415.2,116.6 415.8,118.5 416.5,120.3 417.2,122.1 418.0,124.0 418.8,126.0 419.7,128.0 420.7,130.0 421.6,132.0 422.6,133.8 423.5,135.5 424.4,137.0 425.4,138.5 426.3,139.8 427.2,141.0 428.1,142.1 429.0,143.2 429.8,144.2 430.6,145.0 431.4,145.8 432.1,146.6 432.8,147.3 433.5,148.0 434.1,148.7 434.7,149.4 435.3,150.1 435.8,150.7 436.5,151.4 437.3,152.0 438.3,152.6 439.3,153.2 440.5,153.8 441.7,154.4 442.9,155.0 444.0,155.5 445.0,156.0 445.9,156.4 446.8,156.8 447.7,157.1 448.8,157.5 450.0,157.9 451.5,158.3 453.1,158.7 454.8,159.2 456.6,159.6 458.4,160.0 460.0,160.3 461.4,160.6 462.5,160.9 463.7,161.2 464.9,161.4 466.5,161.6 468.6,161.8 471.4,161.9 474.7,162.0 478.4,162.0 482.1,162.1 485.6,162.0 488.6,162.0 491.0,161.9 493.1,161.8 494.9,161.7 496.6,161.6 498.3,161.4 500.0,161.2 501.7,161.0 503.4,160.8 505.1,160.5 506.7,160.2 508.3,159.9 510.0,159.5 511.7,159.0 513.3,158.5 515.0,157.9 516.7,157.3 518.3,156.7 520.0,156.0 521.7,155.3 523.5,154.5 525.3,153.7 527.0,152.8 528.6,152.1 530.0,151.4 531.2,150.8 532.2,150.4 533.0,149.9 533.8,149.5 534.6,149.1 535.5,148.7 546.3,143.4 565.5,143.4 565.5,-7.6 404.3,-7.6" fill="#F9FB15"/>
<g fill="none" stroke="#000" stroke-width="0.9" stroke-linejoin="round">
<polyline points="347.2,14.4 347.2,22.4 347.2,43.7 347.2,66.0 347.2,88.2 347.2,109.5 347.2,128.8 347.2,145.0 347.2,157.9 347.3,168.2 347.3,176.5 347.4,183.3 347.4,189.3 347.5,195.0 347.6,200.1 347.6,204.1 347.7,207.3 347.8,209.8 347.9,212.0 348.0,214.0 348.2,215.7 348.4,216.9 348.6,217.7 348.9,218.2 349.2,218.7 349.5,219.3 349.8,219.9 350.1,220.4 350.4,220.8 350.8,221.2 351.3,221.5 352.0,221.9 352.9,222.3 353.8,222.6 354.9,223.0 356.2,223.3 357.7,223.5 359.4,223.7 361.4,223.8 363.7,223.8 366.2,223.8 368.8,223.8 371.4,223.7 374.0,223.7 376.5,223.7 379.1,223.7 381.7,223.7 384.3,223.7 387.1,223.6 390.0,223.6 392.9,223.6 395.7,223.5 398.6,223.5 401.9,223.4 405.6,223.4 410.0,223.3 415.2,223.2 421.1,223.1 427.5,223.1 434.2,223.0 441.0,222.9 447.8,222.8 454.5,222.7 461.4,222.7 468.4,222.6 475.5,222.5 482.7,222.5 490.0,222.4 497.4,222.3 504.9,222.2 512.5,222.1 520.2,222.0 527.9,221.9 535.5,221.8 547.5,221.6"/>
<polyline points="351.2,14.4 351.2,22.4 351.2,43.7 351.1,66.0 351.0,88.2 351.0,109.5 351.0,128.8 351.0,145.0 351.1,157.9 351.2,168.4 351.4,176.7 351.6,183.6 351.8,189.5 352.0,195.0 352.2,199.6 352.4,202.8 352.7,205.1 352.9,206.7 353.2,208.2 353.5,209.7 353.8,211.2 354.1,212.5 354.3,213.4 354.7,214.2 355.1,215.0 355.5,215.8 356.0,216.6 356.6,217.4 357.2,218.0 357.8,218.7 358.6,219.2 359.4,219.7 360.3,220.1 361.3,220.4 362.4,220.7 363.6,220.9 364.8,221.0 366.0,221.2 367.2,221.3 368.3,221.5 369.4,221.5 370.7,221.6 372.2,221.6 374.0,221.6 376.3,221.5 379.0,221.4 381.9,221.3 384.8,221.1 387.6,221.0 390.0,220.9 391.6,220.8 392.4,220.8 393.0,220.8 394.1,220.8 396.2,220.8 400.0,220.7 405.8,220.6 413.3,220.4 421.9,220.2 430.9,220.1 439.7,219.9 447.8,219.7 455.1,219.5 462.2,219.4 469.0,219.3 475.9,219.1 482.8,219.0 490.0,218.8 497.4,218.6 504.9,218.4 512.5,218.3 520.2,218.1 527.9,217.9 535.5,217.7 547.5,217.4"/>
<polyline points="355.5,14.4 355.5,22.4 355.6,43.8 355.6,66.5 355.7,89.2 355.8,110.6 355.9,129.6 356.0,145.0 356.1,156.1 356.3,163.9 356.5,169.2 356.7,173.1 356.8,176.3 357.0,180.0 357.1,183.7 357.3,186.7 357.4,189.0 357.5,191.1 357.6,193.0 357.8,195.0 358.0,197.0 358.3,199.0 358.5,200.8 358.8,202.4 359.1,203.9 359.4,205.3 359.7,206.5 360.0,207.5 360.3,208.3 360.7,209.1 361.0,209.8 361.5,210.5 362.0,211.2 362.5,211.9 363.0,212.6 363.6,213.2 364.4,213.8 365.3,214.4 366.4,215.0 367.6,215.5 369.0,216.1 370.5,216.6 372.1,217.0 374.0,217.3 376.0,217.5 378.2,217.6 380.6,217.7 383.2,217.7 385.9,217.6 388.8,217.6 391.8,217.5 394.8,217.5 398.0,217.3 401.5,217.2 405.4,217.1 410.0,217.0 415.5,216.9 421.9,216.9 428.8,216.8 435.7,216.7 442.2,216.7 447.8,216.6 452.4,216.5 456.4,216.4 460.0,216.3 463.3,216.1 466.6,216.0 470.0,215.9 473.2,215.8 475.9,215.8 478.5,215.7 481.5,215.7 485.2,215.6 490.0,215.4 496.1,215.2 503.3,214.8 511.2,214.5 519.4,214.1 527.6,213.8 535.5,213.4 547.5,212.9"/>
<polyline points="365.5,14.4 365.5,22.4 365.5,24.7 365.5,26.6 365.5,28.4 365.5,30.8 365.6,34.1 365.6,39.0 365.6,45.7 365.7,54.0 365.7,63.2 365.8,73.0 365.9,82.7 366.0,92.0 366.1,101.1 366.3,110.5 366.4,119.9 366.6,129.0 366.9,137.5 367.1,145.0 367.4,151.6 367.7,157.4 368.0,162.7 368.4,167.3 368.8,171.4 369.2,175.0 369.6,177.8 370.1,179.8 370.5,181.2 371.0,182.4 371.5,183.5 372.0,185.0 372.5,186.8 373.0,188.7 373.5,190.6 374.0,192.4 374.5,194.0 375.0,195.3 375.4,196.3 375.7,197.0 376.1,197.5 376.4,198.0 376.8,198.3 377.3,198.8 377.8,199.3 378.3,199.7 378.9,200.1 379.6,200.5 380.4,200.9 381.5,201.4 382.8,202.0 384.4,202.6 386.2,203.2 388.0,203.8 389.9,204.4 391.8,205.0 393.7,205.5 395.8,206.0 397.9,206.5 399.9,206.9 401.8,207.3 403.5,207.6 404.8,207.8 405.8,208.0 406.7,208.1 407.6,208.1 408.6,208.2 410.0,208.3 411.8,208.5 413.7,208.6 415.9,208.8 418.2,209.0 420.5,209.1 422.8,209.2 424.9,209.2 426.7,209.0 428.6,208.9 430.8,208.7 433.5,208.5 437.0,208.4 441.6,208.3 447.1,208.2 453.1,208.1 459.3,208.1 465.0,208.0 470.0,207.9 474.1,207.8 477.6,207.7 480.8,207.6 483.8,207.5 486.8,207.4 490.0,207.2 493.3,207.0 496.5,206.8 499.7,206.5 502.9,206.2 506.3,206.0 510.0,205.7 513.9,205.4 518.1,205.2 522.4,204.9 526.8,204.7 531.2,204.4 535.5,204.2 547.5,203.5"/>
<polyline points="379.4,14.4 379.6,22.4 379.7,24.7 379.7,26.6 379.7,28.4 379.8,30.8 379.9,34.1 380.0,39.0 380.2,46.0 380.5,55.0 380.7,64.9 381.0,75.0 381.3,84.3 381.6,92.0 381.8,97.9 382.0,102.6 382.2,106.6 382.4,110.3 382.7,113.9 383.0,118.0 383.4,122.7 383.9,127.6 384.4,132.6 384.9,137.4 385.3,141.6 385.7,145.0 386.0,147.4 386.2,149.1 386.3,150.2 386.4,151.0 386.6,151.9 386.8,153.0 387.0,154.3 387.3,155.6 387.5,156.9 387.8,158.3 388.1,159.6 388.5,161.0 388.9,162.5 389.4,164.0 390.0,165.5 390.5,167.0 391.2,168.5 391.9,170.0 392.7,171.4 393.5,172.8 394.5,174.2 395.4,175.5 396.4,176.8 397.4,178.0 398.4,179.2 399.4,180.3 400.4,181.4 401.4,182.4 402.5,183.4 403.7,184.3 404.9,185.2 406.2,186.1 407.5,186.9 408.9,187.7 410.3,188.4 411.7,189.0 413.2,189.5 414.7,190.0 416.3,190.4 417.9,190.8 419.5,191.1 421.2,191.4 423.0,191.7 424.9,191.9 426.8,192.1 428.7,192.2 430.5,192.4 432.2,192.5 433.7,192.6 435.0,192.7 436.2,192.8 437.4,192.8 438.6,192.9 440.0,192.9 441.4,192.9 442.8,192.9 444.2,192.9 445.8,192.8 447.7,192.8 450.0,192.8 452.8,192.8 456.1,192.8 459.7,192.9 463.3,192.9 466.8,192.9 470.0,192.9 472.8,192.8 475.3,192.8 477.8,192.6 480.2,192.5 482.8,192.4 485.6,192.2 488.6,192.0 491.7,191.8 494.9,191.6 498.3,191.4 502.0,191.1 506.0,190.8 510.4,190.5 515.2,190.1 520.2,189.8 525.3,189.4 530.5,189.0 535.5,188.6 547.5,187.7"/>
<polyline points="404.3,14.4 404.5,22.4 404.6,25.1 404.6,27.8 404.7,30.5 404.7,33.2 404.8,36.0 405.0,39.0 405.2,42.1 405.6,45.4 405.9,48.8 406.3,52.2 406.6,55.6 407.0,59.0 407.3,62.4 407.7,65.9 408.0,69.4 408.3,72.9 408.7,76.1 409.0,79.0 409.3,81.5 409.6,83.6 409.9,85.5 410.3,87.4 410.6,89.5 411.0,92.0 411.4,95.0 411.9,98.4 412.4,102.1 412.9,105.7 413.4,109.0 414.0,112.0 414.6,114.5 415.2,116.6 415.8,118.5 416.5,120.3 417.2,122.1 418.0,124.0 418.8,126.0 419.7,128.0 420.7,130.0 421.6,132.0 422.6,133.8 423.5,135.5 424.4,137.0 425.4,138.5 426.3,139.8 427.2,141.0 428.1,142.1 429.0,143.2 429.8,144.2 430.6,145.0 431.4,145.8 432.1,146.6 432.8,147.3 433.5,148.0 434.1,148.7 434.7,149.4 435.3,150.1 435.8,150.7 436.5,151.4 437.3,152.0 438.3,152.6 439.3,153.2 440.5,153.8 441.7,154.4 442.9,155.0 444.0,155.5 445.0,156.0 445.9,156.4 446.8,156.8 447.7,157.1 448.8,157.5 450.0,157.9 451.5,158.3 453.1,158.7 454.8,159.2 456.6,159.6 458.4,160.0 460.0,160.3 461.4,160.6 462.5,160.9 463.7,161.2 464.9,161.4 466.5,161.6 468.6,161.8 471.4,161.9 474.7,162.0 478.4,162.0 482.1,162.1 485.6,162.0 488.6,162.0 491.0,161.9 493.1,161.8 494.9,161.7 496.6,161.6 498.3,161.4 500.0,161.2 501.7,161.0 503.4,160.8 505.1,160.5 506.7,160.2 508.3,159.9 510.0,159.5 511.7,159.0 513.3,158.5 515.0,157.9 516.7,157.3 518.3,156.7 520.0,156.0 521.7,155.3 523.5,154.5 525.3,153.7 527.0,152.8 528.6,152.1 530.0,151.4 531.2,150.8 532.2,150.4 533.0,149.9 533.8,149.5 534.6,149.1 535.5,148.7 546.3,143.4"/>
</g></g>
<g transform="translate(478.30 162.00) rotate(2.5)"><rect x="-10.05" y="-6.75" width="20.10" height="13.50" fill="#fff" stroke="#000" stroke-width="0.9"/><text x="0" y="4.10" font-size="10.3" text-anchor="middle" fill="#000">0.95</text></g>
<g transform="translate(495.70 191.25) rotate(-2.7)"><rect x="-10.00" y="-6.75" width="20.00" height="13.50" fill="#fff" stroke="#000" stroke-width="0.9"/><text x="0" y="4.10" font-size="10.3" text-anchor="middle" fill="#000">0.93</text></g>
<g transform="translate(429.60 208.90) rotate(-1.6)"><rect x="-7.10" y="-6.75" width="14.20" height="13.50" fill="#fff" stroke="#000" stroke-width="0.9"/><text x="0" y="4.10" font-size="10.3" text-anchor="middle" fill="#000">0.9</text></g>
<g transform="translate(457.55 216.55) rotate(-2.8)"><rect x="-9.95" y="-6.75" width="19.90" height="13.50" fill="#fff" stroke="#000" stroke-width="0.9"/><text x="0" y="4.10" font-size="10.3" text-anchor="middle" fill="#000">0.85</text></g>
<g transform="translate(480.80 219.15) rotate(-1.2)"><rect x="-7.05" y="-6.75" width="14.10" height="13.50" fill="#fff" stroke="#000" stroke-width="0.9"/><text x="0" y="4.10" font-size="10.3" text-anchor="middle" fill="#000">0.8</text></g>
<g transform="translate(504.20 222.30) rotate(-2.8)"><rect x="-7.15" y="-6.75" width="14.30" height="13.50" fill="#fff" stroke="#000" stroke-width="0.9"/><text x="0" y="4.10" font-size="10.3" text-anchor="middle" fill="#000">0.7</text></g>
<rect x="341.00" y="22.40" width="194.50" height="204.10" fill="none" stroke="#262626" stroke-width="0.85"/>
<path d="M341.00 226.50v-2.20 M341.00 22.40v2.20 M405.90 226.50v-2.20 M405.90 22.40v2.20 M470.80 226.50v-2.20 M470.80 22.40v2.20 M535.70 226.50v-2.20 M535.70 22.40v2.20 M341.00 226.50h2.20 M535.50 226.50h-2.20 M341.00 190.52h2.20 M535.50 190.52h-2.20 M341.00 154.54h2.20 M535.50 154.54h-2.20 M341.00 118.56h2.20 M535.50 118.56h-2.20 M341.00 82.58h2.20 M535.50 82.58h-2.20 M341.00 46.60h2.20 M535.50 46.60h-2.20" stroke="#262626" stroke-width="0.7" fill="none"/>
<g font-size="10.8" fill="#262626">
<text x="341.00" y="240.80" text-anchor="middle">0</text>
<text x="405.90" y="240.80" text-anchor="middle">2000</text>
<text x="470.80" y="240.80" text-anchor="middle">4000</text>
<text x="535.70" y="240.80" text-anchor="middle">6000</text>
<text x="338.40" y="231.00" text-anchor="end">0</text>
<text x="338.40" y="195.02" text-anchor="end">20</text>
<text x="338.40" y="159.04" text-anchor="end">40</text>
<text x="338.40" y="123.06" text-anchor="end">60</text>
<text x="338.40" y="87.08" text-anchor="end">80</text>
<text x="338.40" y="51.10" text-anchor="end">100</text>
</g>
<text x="438.40" y="256.70" font-size="12.4" text-anchor="middle" fill="#262626">Motor Speed in 1/min</text>
<text transform="translate(315.50 124.50) rotate(-90)" font-size="12.2" text-anchor="middle" fill="#262626">Torque in Nm</text>
<text x="438.50" y="17.60" font-size="11" text-anchor="middle" fill="#000">IM</text>
</svg>
</body></html>
